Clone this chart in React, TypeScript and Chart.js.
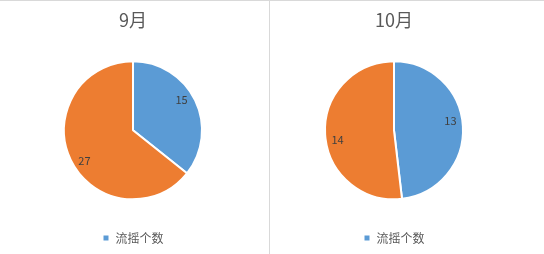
import React, { useEffect, useRef } from "react";
import { Chart, registerables } from "chart.js";

Chart.register(...registerables);

const categories = ["流摇个数", "其他"];
const septemberValues = [15, 27];
const octoberValues = [13, 14];
const titles = ["9月", "10月"];
const colors = ["#5B9BD5", "#ED7D31"];

const FONT = "'Noto Sans CJK SC', 'Noto Sans', sans-serif";

const labelPlugin = {
  id: "sliceLabels",
  afterDatasetsDraw(chart: any) {
    const ctx = chart.ctx;
    const meta = chart.getDatasetMeta(0);
    const data = chart.data.datasets[0].data;
    ctx.save();
    ctx.font = `11px ${FONT}`;
    ctx.fillStyle = "#404040";
    ctx.textAlign = "center";
    ctx.textBaseline = "middle";
    meta.data.forEach((arc: any, i: number) => {
      const { x, y, startAngle, endAngle, outerRadius } = arc.getProps(
        ["x", "y", "startAngle", "endAngle", "outerRadius"],
        true
      );
      const mid = (startAngle + endAngle) / 2 - 0.11;
      const r = outerRadius * 0.83;
      ctx.fillText(String(data[i]), x + Math.cos(mid) * r, y + Math.sin(mid) * r);
    });
    ctx.restore();
  },
};

function PieChart({
  values,
  title,
  width,
  padLeft,
  padRight,
}: {
  values: number[];
  title: string;
  width: number;
  padLeft: number;
  padRight: number;
}) {
  const ref = useRef<HTMLCanvasElement>(null);
  useEffect(() => {
    if (!ref.current) return;
    const chart = new Chart(ref.current, {
      type: "pie",
      data: {
        labels: categories,
        datasets: [
          {
            data: values,
            backgroundColor: colors,
            borderColor: "#ffffff",
            borderWidth: 2,
          },
        ],
      },
      options: {
        animation: false,
        responsive: false,
        layout: { padding: { left: padLeft, right: padRight, top: 0, bottom: 0 } },
        plugins: {
          title: {
            display: true,
            text: title,
            color: "#595959",
            font: { family: FONT, size: 18, weight: "normal" },
            padding: { top: 8, bottom: 8 },
          },
          legend: {
            position: "bottom",
            labels: {
              color: "#595959",
              font: { family: FONT, size: 12 },
              boxWidth: 7,
              boxHeight: 7,
              padding: 10,
              filter: (item: any) => item.index === 0,
            },
          },
          tooltip: { enabled: false },
        },
      },
      plugins: [labelPlugin],
    });
    return () => chart.destroy();
  }, []);
  return <canvas ref={ref} width={width} height={253} style={{ display: "block" }} />;
}

export default function App() {
  return (
    <div
      style={{
        position: "absolute",
        left: 0,
        top: 0,
        width: 544,
        height: 254,
        background: "#ffffff",
        borderTop: "1px solid #d9d9d9",
        boxSizing: "border-box",
        display: "flex",
      }}
    >
      <PieChart values={septemberValues} title={titles[0]} width={269} padLeft={63} padRight={66} />
      <div style={{ width: 1, height: 253, background: "#d9d9d9" }} />
      <PieChart values={octoberValues} title={titles[1]} width={274} padLeft={54} padRight={80} />
    </div>
  );
}
